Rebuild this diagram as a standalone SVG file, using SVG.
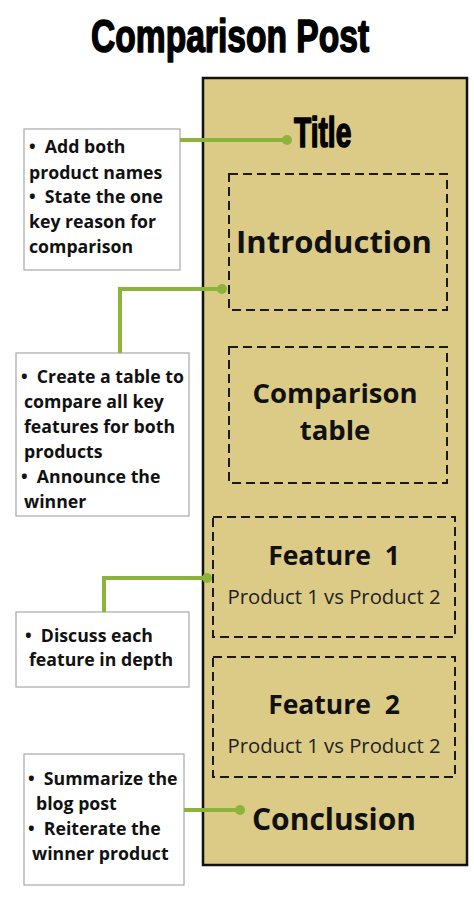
<svg xmlns="http://www.w3.org/2000/svg" width="474" height="914" viewBox="0 0 474 914">
<style>
.note{fill:#fff;stroke:#a8a8a8;stroke-width:1.2}
.nt{font-family:"Open Sans","Liberation Sans",sans-serif;font-weight:700;font-size:17.7px;fill:#111}
.sec{fill:none;stroke:#1a1a1a;stroke-width:2;stroke-dasharray:9 5}
.st{font-family:"Open Sans","Liberation Sans",sans-serif;font-weight:700;fill:#111;text-anchor:middle}
.sub{font-family:"Open Sans","Liberation Sans",sans-serif;font-weight:400;font-size:20.3px;fill:#222;text-anchor:middle}
.hd{font-family:"Liberation Sans",sans-serif;font-weight:700;fill:#000;stroke:#000;stroke-width:1.6;stroke-linejoin:round}
.con{fill:none;stroke:#8cb43a;stroke-width:4}
.dot{fill:#8cb43a}
</style>
<rect width="474" height="914" fill="#fff"/>
<text class="hd" transform="translate(91 52) scale(0.715 1)" x="0" y="0" font-size="47">Comparison Post</text>
<g id="post">
<rect x="203" y="78" width="264" height="787" fill="#dccb87" stroke="#111" stroke-width="2.5"/>
<text class="hd" transform="translate(294 147) scale(0.67 1)" x="0" y="0" font-size="42">Title</text>
</g>
<g id="introduction">
<rect class="sec" x="229" y="174" width="218" height="136"/>
<text class="st" x="334" y="253" font-size="31">Introduction</text>
</g>
<g id="comparison-table">
<rect class="sec" x="229" y="347" width="218" height="136"/>
<text class="st" x="335" y="403" font-size="27.5">Comparison</text>
<text class="st" x="335" y="440" font-size="27.5">table</text>
</g>
<g id="feature1">
<rect class="sec" x="213" y="517" width="242" height="120"/>
<text class="st" x="334" y="565" font-size="26.5" xml:space="preserve">Feature  1</text>
<text class="sub" x="334" y="604">Product 1 vs Product 2</text>
</g>
<g id="feature2">
<rect class="sec" x="213" y="657" width="242" height="120"/>
<text class="st" x="334" y="714" font-size="26.5" xml:space="preserve">Feature  2</text>
<text class="sub" x="334" y="753">Product 1 vs Product 2</text>
</g>
<g id="conclusion">
<text class="st" x="334" y="830" font-size="30">Conclusion</text>
</g>
<g id="note-title">
<rect class="note" x="24" y="129" width="156" height="141"/>
<text class="nt" x="29" y="153" xml:space="preserve">•  Add both</text>
<text class="nt" x="29" y="179">product names</text>
<text class="nt" x="29" y="203" xml:space="preserve">•  State the one</text>
<text class="nt" x="29" y="228">key reason for</text>
<text class="nt" x="29" y="253">comparison</text>
</g>
<g id="note-table">
<rect class="note" x="16" y="353" width="173" height="163"/>
<text class="nt" x="21" y="383" xml:space="preserve">•  Create a table to</text>
<text class="nt" x="24" y="408">compare all key</text>
<text class="nt" x="24" y="433">features for both</text>
<text class="nt" x="24" y="458">products</text>
<text class="nt" x="21" y="483" xml:space="preserve">•  Announce the</text>
<text class="nt" x="24" y="508">winner</text>
</g>
<g id="note-feature">
<rect class="note" x="16" y="612" width="173" height="75"/>
<text class="nt" x="25" y="642" xml:space="preserve">•  Discuss each</text>
<text class="nt" x="29" y="666">feature in depth</text>
</g>
<g id="note-conclusion">
<rect class="note" x="24" y="754" width="160" height="131"/>
<text class="nt" x="28" y="785" xml:space="preserve">•  Summarize the</text>
<text class="nt" x="36" y="810">blog post</text>
<text class="nt" x="28" y="835" xml:space="preserve">•  Reiterate the</text>
<text class="nt" x="32" y="860">winner product</text>
</g>
<g id="connectors">
<path class="con" d="M180 140H287"/>
<circle class="dot" cx="287" cy="140" r="5"/>
<path class="con" d="M120 353V289H222"/>
<circle class="dot" cx="222" cy="289" r="5"/>
<path class="con" d="M104 612V578H207"/>
<circle class="dot" cx="207" cy="578" r="5"/>
<path class="con" d="M184 810H240"/>
<circle class="dot" cx="240" cy="810" r="5"/>
</g>
</svg>
